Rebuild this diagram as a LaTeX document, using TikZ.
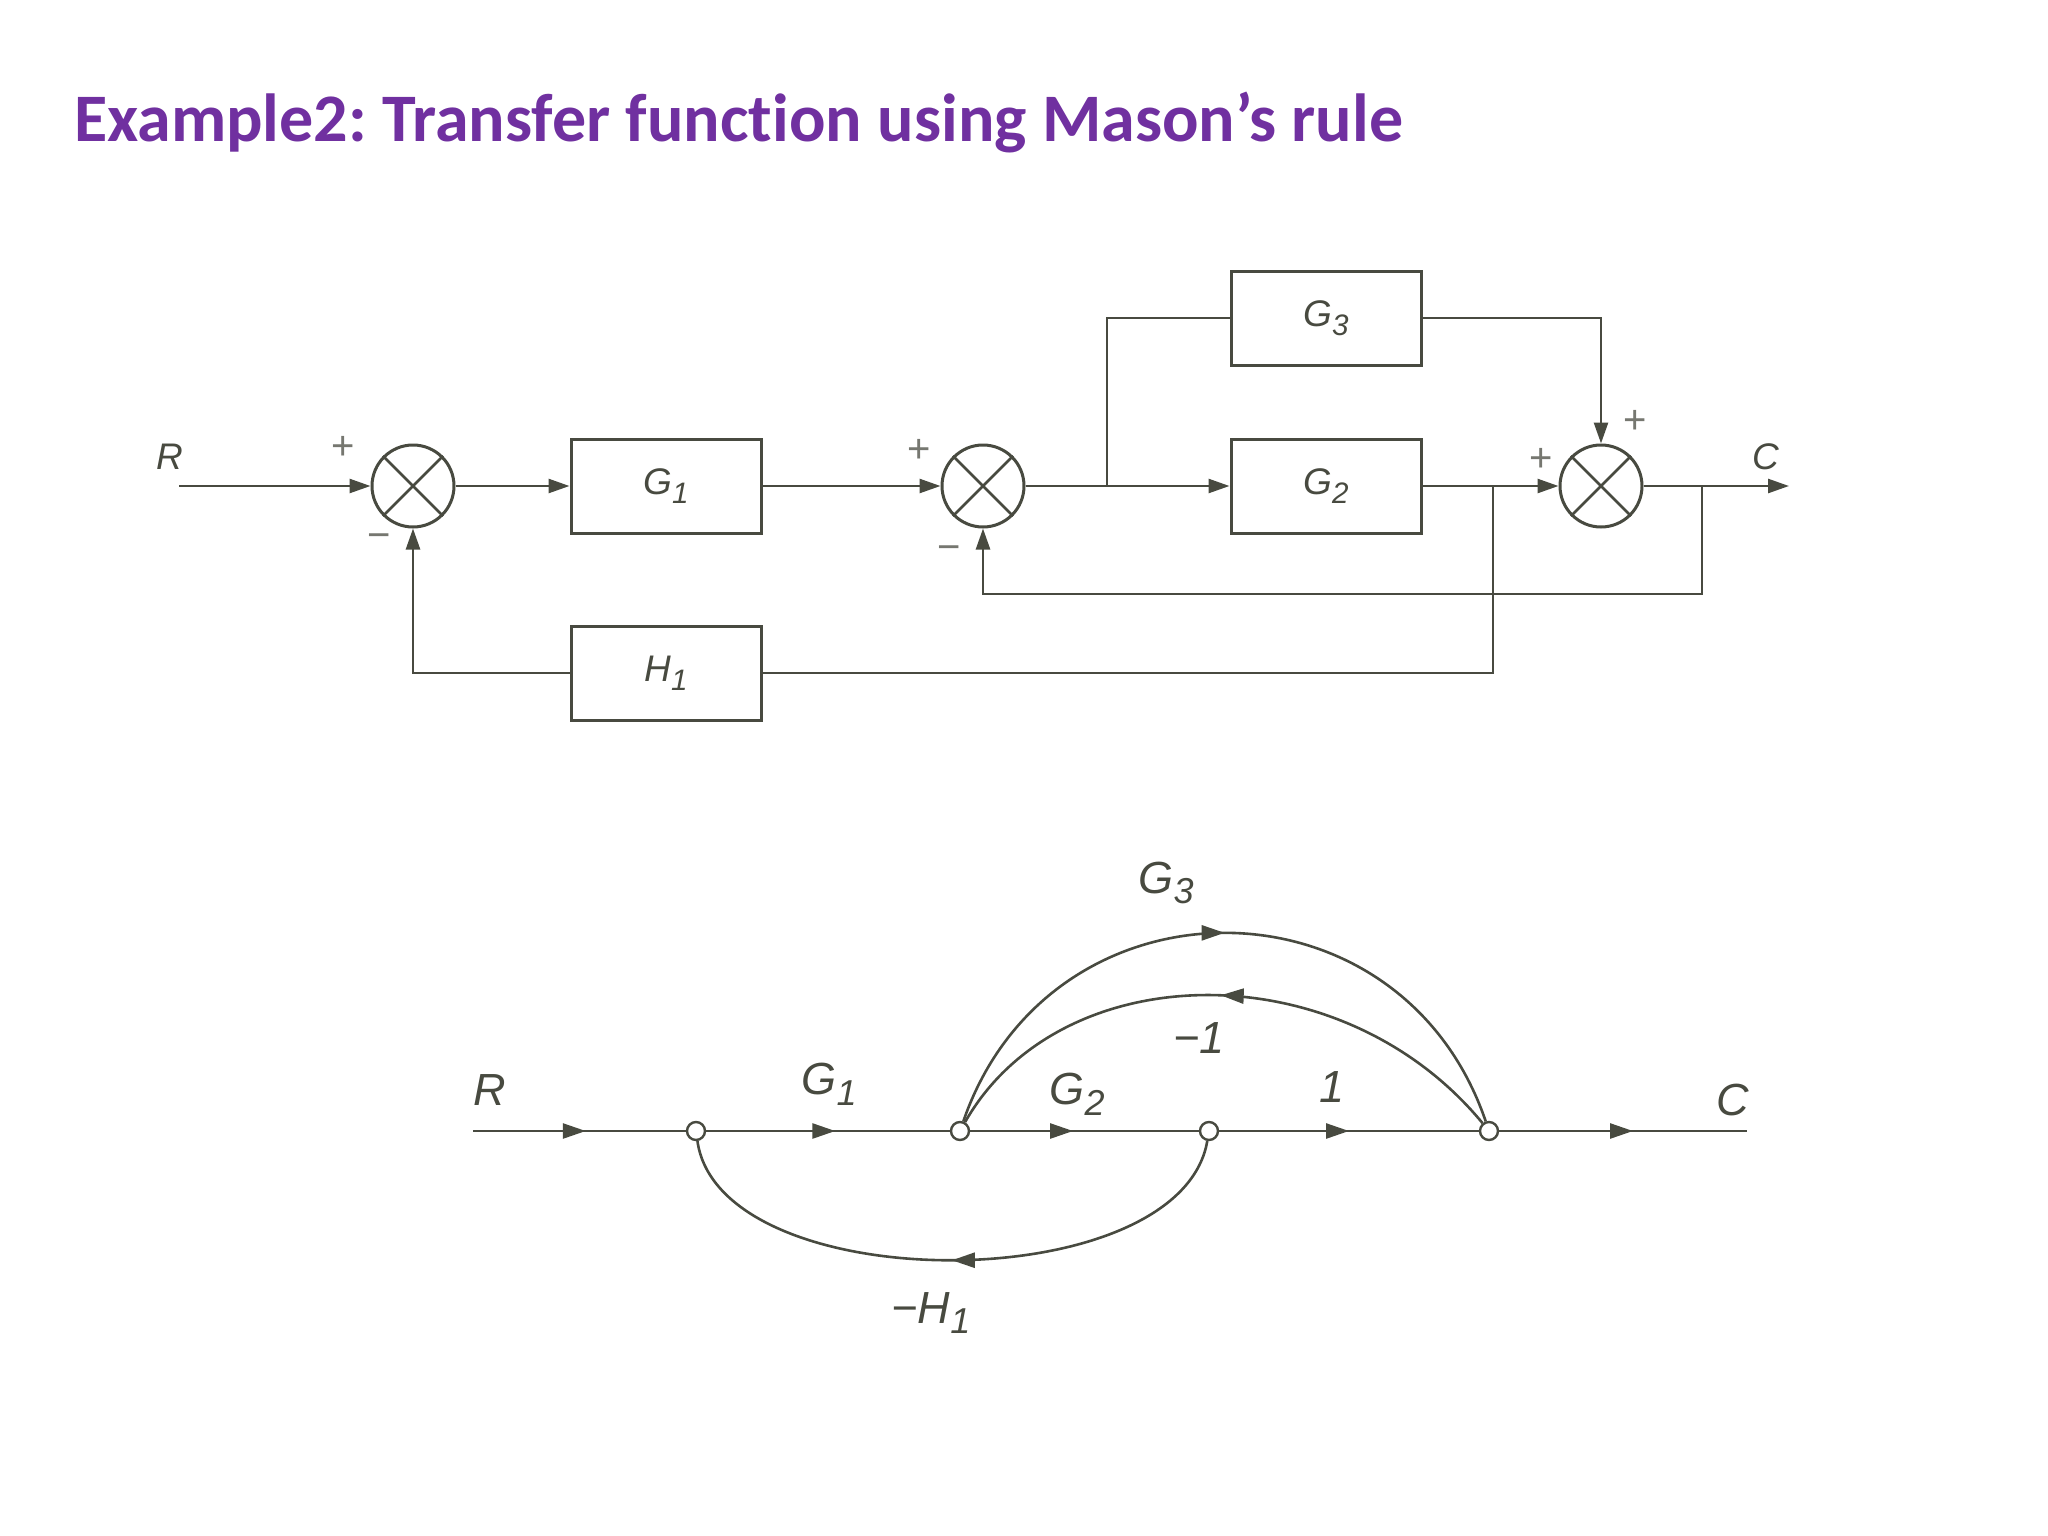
\documentclass[tikz,border=0pt]{standalone}
\usepackage{fontspec}
\setmainfont{Liberation Sans}
\newfontfamily\titlefont[Ligatures=NoCommon]{Carlito}
\usetikzlibrary{arrows.meta,decorations.markings}
\definecolor{ink}{RGB}{72,74,64}
\definecolor{titlec}{RGB}{112,48,160}
\newcommand{\lsub}[1]{\raisebox{-0.45ex}{\scalebox{0.8}{#1}}}
\frenchspacing
\tikzset{
 wire/.style={draw=ink, line width=2.6pt},
 arr/.style={-{Triangle[length=21pt,width=14pt]}},
 blk/.style={draw=ink, line width=3pt, minimum width=190pt, minimum height=94pt, inner sep=0pt,
   text=ink, font=\fontsize{37}{37}\selectfont\itshape},
 sumj/.style={circle, draw=ink, line width=3pt, minimum size=82pt, inner sep=0pt},
 lbl/.style={text=ink, font=\fontsize{37}{37}\selectfont\itshape},
 sgn/.style={text=ink!75, font=\fontsize{40}{40}\selectfont},
 sfn/.style={circle, draw=ink, fill=white, line width=2.4pt, minimum size=18pt, inner sep=0pt},
 slbl/.style={text=ink, font=\fontsize{45}{45}\selectfont\itshape},
 midarr/.style={postaction={decorate}, decoration={markings, mark=at position #1 with {\arrow{Triangle[length=23pt,width=15pt]}}}},
}
\begin{document}
\begin{tikzpicture}[x=1pt,y=-1pt]
\useasboundingbox[fill=white] (0,0) rectangle (2048,1536);
\node[anchor=base west, text=titlec, font=\titlefont\fontsize{68}{68}\bfseries\selectfont, inner sep=0pt] (title) at (74,142) {Example2: Transfer function using Mason’s rule};

% ---- block diagram ----
\coordinate (Rin) at (179,486);
\node[sumj] (s1) at (413,486) {};
\node[blk] (g1) at (666,486) {G\lsub{1}};
\node[sumj] (s2) at (983,486) {};
\node[blk] (g2) at (1326,486) {G\lsub{2}};
\node[blk] (g3) at (1326,318) {G\lsub{3}};
\node[sumj] (s3) at (1601,486) {};
\coordinate (Cout) at (1789,486);
\node[blk] (h1) at (666,673) {H\lsub{1}};
\foreach \s in {s1,s2,s3}{
  \draw[wire] (\s.north west) -- (\s.south east) (\s.north east) -- (\s.south west);
}
\coordinate (b1) at (1107,486);
\coordinate (b2) at (1493,486);
\coordinate (b3) at (1702,486);
\coordinate (fb) at (1702,594);

\draw[wire,arr] (Rin) -- (s1);
\draw[wire,arr] (s1) -- (g1);
\draw[wire,arr] (g1) -- (s2);
\draw[wire,arr] (s2) -- (g2);
\draw[wire] (b1) |- (g3.west);
\draw[wire,arr] (g3.east) -| (s3.north);
\draw[wire,arr] (g2) -- (s3);
\draw[wire] (b2) |- (h1.east);
\draw[wire,arr] (h1.west) -| (s1.south);
\draw[wire,arr] (s3) -- (Cout);
\draw[wire,arr] (b3) -- (fb) -| (s2.south);

\node[lbl] (lR) at (170,457) {R};
\node[lbl] (lC) at (1766,457) {C};
\node[sgn] (p1) at (343,448) {+};
\node[sgn] (m1) at (379,541) {−};
\node[sgn] (p2) at (919,451) {+};
\node[sgn] (m2) at (949,553) {−};
\node[sgn] (p3) at (1541,460) {+};
\node[sgn] (p4) at (1635,422) {+};

% ---- signal flow graph ----
\coordinate (sR) at (473,1131);
\node[sfn] (n1) at (696,1131) {};
\node[sfn] (n2) at (960,1131) {};
\node[sfn] (n3) at (1209,1131) {};
\node[sfn] (n4) at (1489,1131) {};
\coordinate (sC) at (1747,1131);

\draw[wire, midarr=0.53] (sR) -- (n1);
\draw[wire, midarr=0.53] (n1) -- (n2);
\draw[wire, midarr=0.45] (n2) -- (n3);
\draw[wire, midarr=0.5] (n3) -- (n4);
\draw[wire, midarr=0.54] (n4) -- (sC);
\draw[wire, midarr=0.5] (n3) .. controls (1180,1300) and (720,1300) .. (n1);
\draw[wire, midarr=0.5] (n2) .. controls (1050,870) and (1400,870) .. (n4);
\draw[wire, midarr=0.5] (n4) .. controls (1340,950) and (1060,955) .. (n2);

\node[slbl] (tR) at (490,1090) {R};
\node[slbl] (tG1) at (829,1084) {G\lsub{1}};
\node[slbl] (tG2) at (1077,1094) {G\lsub{2}};
\node[slbl] (t1) at (1332,1087) {1};
\node[slbl] (tC) at (1733,1100) {C};
\node[slbl] (tH) at (931,1313) {−H\lsub{1}};
\node[slbl] (tG3) at (1166,883) {G\lsub{3}};
\node[slbl] (tm1) at (1199,1038) {−1};
\end{tikzpicture}
\end{document}
